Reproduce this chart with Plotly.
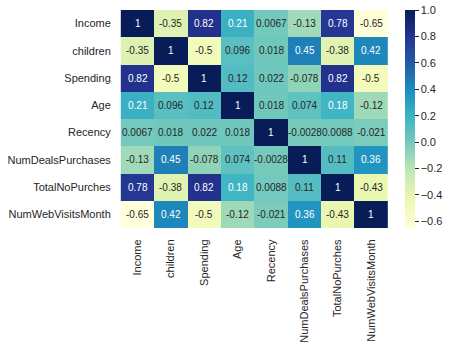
import plotly.graph_objects as go

labels = ["Income", "children", "Spending", "Age", "Recency",
          "NumDealsPurchases", "TotalNoPurches", "NumWebVisitsMonth"]

row_income = [1, -0.35, 0.82, 0.21, 0.0067, -0.13, 0.78, -0.65]
row_children = [-0.35, 1, -0.5, 0.096, 0.018, 0.45, -0.38, 0.42]
row_spending = [0.82, -0.5, 1, 0.12, 0.022, -0.078, 0.82, -0.5]
row_age = [0.21, 0.096, 0.12, 1, 0.018, 0.074, 0.18, -0.12]
row_recency = [0.0067, 0.018, 0.022, 0.018, 1, -0.0028, 0.0088, -0.021]
row_deals = [-0.13, 0.45, -0.078, 0.074, -0.0028, 1, 0.11, 0.36]
row_total = [0.78, -0.38, 0.82, 0.18, 0.0088, 0.11, 1, -0.43]
row_web = [-0.65, 0.42, -0.5, -0.12, -0.021, 0.36, -0.43, 1]

z = [row_income, row_children, row_spending, row_age,
     row_recency, row_deals, row_total, row_web]

cbar_ticks = [-0.6, -0.4, -0.2, 0.0, 0.2, 0.4, 0.6, 0.8, 1.0]
cbar_text = ["\u22120.6", "\u22120.4", "\u22120.2", "0.0", "0.2", "0.4", "0.6", "0.8", "1.0"]

ylgnbu = ["rgb(255,255,217)", "rgb(237,248,177)", "rgb(199,233,180)",
          "rgb(127,205,187)", "rgb(65,182,196)", "rgb(29,145,192)",
          "rgb(34,94,168)", "rgb(37,52,148)", "rgb(8,29,88)"]
cscale = [[i / (len(ylgnbu) - 1), c] for i, c in enumerate(ylgnbu)]

FONT = "Liberation Sans, Arial, sans-serif"
DARK = "#262626"

fig = go.Figure(go.Heatmap(
    z=z, x=labels, y=labels, colorscale=cscale,
    zmin=min(min(r) for r in z), zmax=1,
    xgap=0, ygap=0,
    colorbar=dict(
        x=1.063, xanchor="left", xpad=0, ypad=0,
        y=0.5, yanchor="middle", len=1, lenmode="fraction",
        thickness=10, outlinewidth=0,
        ticks="outside", ticklen=4, tickwidth=1, tickcolor=DARK,
        tickvals=cbar_ticks, ticktext=cbar_text,
        tickfont=dict(family=FONT, size=11, color=DARK),
    ),
    hoverinfo="skip",
))

annotations = []
for i, rname in enumerate(labels):
    for j, cname in enumerate(labels):
        v = z[i][j]
        col = "white" if v >= 0.15 else DARK
        annotations.append(dict(
            x=cname, y=rname, text=format(v, ".2g"), showarrow=False,
            font=dict(family=FONT, size=10, color=col),
        ))

fig.update_layout(
    width=453, height=348,
    margin=dict(l=120, r=65, t=10, b=120, autoexpand=False),
    paper_bgcolor="white", plot_bgcolor="white",
    annotations=annotations,
    font=dict(family=FONT, color=DARK),
    xaxis=dict(tickangle=-90, tickfont=dict(size=11, color=DARK),
               ticks="outside", ticklen=6, tickcolor="rgba(0,0,0,0)",
               showgrid=False, zeroline=False, showline=False),
    yaxis=dict(autorange="reversed", tickfont=dict(size=11, color=DARK),
               ticks="outside", ticklen=6, tickcolor="rgba(0,0,0,0)",
               showgrid=False, zeroline=False, showline=False),
)

fig.write_html("out.html")
